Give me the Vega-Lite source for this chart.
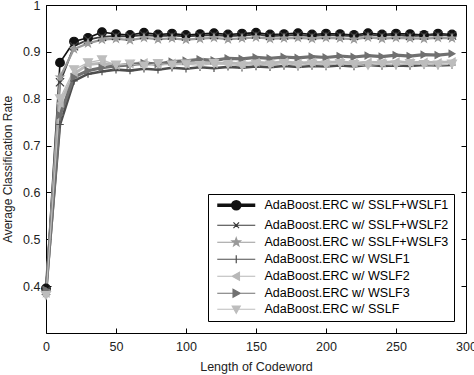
{
"$schema": "https://vega.github.io/schema/vega-lite/v6.json",
"width": 420, "height": 328,
"autosize": "none",
"padding": {"left": 46, "top": 5, "right": 8, "bottom": 42},
"background": "white",
"config": {"view": {"stroke": "black", "strokeWidth": 1}, "font": "Liberation Sans"},
"datasets": {"d": [
{"s":"AdaBoost.ERC w/ SSLF+WSLF1","x":0,"y":0.395},{"s":"AdaBoost.ERC w/ SSLF+WSLF1","x":10,"y":0.877},{"s":"AdaBoost.ERC w/ SSLF+WSLF1","x":20,"y":0.922},{"s":"AdaBoost.ERC w/ SSLF+WSLF1","x":30,"y":0.930},{"s":"AdaBoost.ERC w/ SSLF+WSLF1","x":40,"y":0.942},{"s":"AdaBoost.ERC w/ SSLF+WSLF1","x":50,"y":0.938},{"s":"AdaBoost.ERC w/ SSLF+WSLF1","x":60,"y":0.936},{"s":"AdaBoost.ERC w/ SSLF+WSLF1","x":70,"y":0.941},{"s":"AdaBoost.ERC w/ SSLF+WSLF1","x":80,"y":0.937},{"s":"AdaBoost.ERC w/ SSLF+WSLF1","x":90,"y":0.939},{"s":"AdaBoost.ERC w/ SSLF+WSLF1","x":100,"y":0.936},{"s":"AdaBoost.ERC w/ SSLF+WSLF1","x":110,"y":0.938},{"s":"AdaBoost.ERC w/ SSLF+WSLF1","x":120,"y":0.940},{"s":"AdaBoost.ERC w/ SSLF+WSLF1","x":130,"y":0.937},{"s":"AdaBoost.ERC w/ SSLF+WSLF1","x":140,"y":0.939},{"s":"AdaBoost.ERC w/ SSLF+WSLF1","x":150,"y":0.941},{"s":"AdaBoost.ERC w/ SSLF+WSLF1","x":160,"y":0.937},{"s":"AdaBoost.ERC w/ SSLF+WSLF1","x":170,"y":0.938},{"s":"AdaBoost.ERC w/ SSLF+WSLF1","x":180,"y":0.940},{"s":"AdaBoost.ERC w/ SSLF+WSLF1","x":190,"y":0.937},{"s":"AdaBoost.ERC w/ SSLF+WSLF1","x":200,"y":0.939},{"s":"AdaBoost.ERC w/ SSLF+WSLF1","x":210,"y":0.938},{"s":"AdaBoost.ERC w/ SSLF+WSLF1","x":220,"y":0.936},{"s":"AdaBoost.ERC w/ SSLF+WSLF1","x":230,"y":0.940},{"s":"AdaBoost.ERC w/ SSLF+WSLF1","x":240,"y":0.937},{"s":"AdaBoost.ERC w/ SSLF+WSLF1","x":250,"y":0.939},{"s":"AdaBoost.ERC w/ SSLF+WSLF1","x":260,"y":0.938},{"s":"AdaBoost.ERC w/ SSLF+WSLF1","x":270,"y":0.936},{"s":"AdaBoost.ERC w/ SSLF+WSLF1","x":280,"y":0.939},{"s":"AdaBoost.ERC w/ SSLF+WSLF1","x":290,"y":0.937},
{"s":"AdaBoost.ERC w/ SSLF+WSLF2","x":0,"y":0.390},{"s":"AdaBoost.ERC w/ SSLF+WSLF2","x":10,"y":0.835},{"s":"AdaBoost.ERC w/ SSLF+WSLF2","x":20,"y":0.912},{"s":"AdaBoost.ERC w/ SSLF+WSLF2","x":30,"y":0.926},{"s":"AdaBoost.ERC w/ SSLF+WSLF2","x":40,"y":0.932},{"s":"AdaBoost.ERC w/ SSLF+WSLF2","x":50,"y":0.934},{"s":"AdaBoost.ERC w/ SSLF+WSLF2","x":60,"y":0.933},{"s":"AdaBoost.ERC w/ SSLF+WSLF2","x":70,"y":0.936},{"s":"AdaBoost.ERC w/ SSLF+WSLF2","x":80,"y":0.934},{"s":"AdaBoost.ERC w/ SSLF+WSLF2","x":90,"y":0.935},{"s":"AdaBoost.ERC w/ SSLF+WSLF2","x":100,"y":0.933},{"s":"AdaBoost.ERC w/ SSLF+WSLF2","x":110,"y":0.935},{"s":"AdaBoost.ERC w/ SSLF+WSLF2","x":120,"y":0.936},{"s":"AdaBoost.ERC w/ SSLF+WSLF2","x":130,"y":0.934},{"s":"AdaBoost.ERC w/ SSLF+WSLF2","x":140,"y":0.935},{"s":"AdaBoost.ERC w/ SSLF+WSLF2","x":150,"y":0.937},{"s":"AdaBoost.ERC w/ SSLF+WSLF2","x":160,"y":0.934},{"s":"AdaBoost.ERC w/ SSLF+WSLF2","x":170,"y":0.935},{"s":"AdaBoost.ERC w/ SSLF+WSLF2","x":180,"y":0.936},{"s":"AdaBoost.ERC w/ SSLF+WSLF2","x":190,"y":0.934},{"s":"AdaBoost.ERC w/ SSLF+WSLF2","x":200,"y":0.936},{"s":"AdaBoost.ERC w/ SSLF+WSLF2","x":210,"y":0.935},{"s":"AdaBoost.ERC w/ SSLF+WSLF2","x":220,"y":0.934},{"s":"AdaBoost.ERC w/ SSLF+WSLF2","x":230,"y":0.936},{"s":"AdaBoost.ERC w/ SSLF+WSLF2","x":240,"y":0.935},{"s":"AdaBoost.ERC w/ SSLF+WSLF2","x":250,"y":0.936},{"s":"AdaBoost.ERC w/ SSLF+WSLF2","x":260,"y":0.934},{"s":"AdaBoost.ERC w/ SSLF+WSLF2","x":270,"y":0.935},{"s":"AdaBoost.ERC w/ SSLF+WSLF2","x":280,"y":0.936},{"s":"AdaBoost.ERC w/ SSLF+WSLF2","x":290,"y":0.935},
{"s":"AdaBoost.ERC w/ SSLF+WSLF3","x":0,"y":0.385},{"s":"AdaBoost.ERC w/ SSLF+WSLF3","x":10,"y":0.846},{"s":"AdaBoost.ERC w/ SSLF+WSLF3","x":20,"y":0.906},{"s":"AdaBoost.ERC w/ SSLF+WSLF3","x":30,"y":0.918},{"s":"AdaBoost.ERC w/ SSLF+WSLF3","x":40,"y":0.926},{"s":"AdaBoost.ERC w/ SSLF+WSLF3","x":50,"y":0.928},{"s":"AdaBoost.ERC w/ SSLF+WSLF3","x":60,"y":0.925},{"s":"AdaBoost.ERC w/ SSLF+WSLF3","x":70,"y":0.930},{"s":"AdaBoost.ERC w/ SSLF+WSLF3","x":80,"y":0.927},{"s":"AdaBoost.ERC w/ SSLF+WSLF3","x":90,"y":0.929},{"s":"AdaBoost.ERC w/ SSLF+WSLF3","x":100,"y":0.926},{"s":"AdaBoost.ERC w/ SSLF+WSLF3","x":110,"y":0.928},{"s":"AdaBoost.ERC w/ SSLF+WSLF3","x":120,"y":0.930},{"s":"AdaBoost.ERC w/ SSLF+WSLF3","x":130,"y":0.927},{"s":"AdaBoost.ERC w/ SSLF+WSLF3","x":140,"y":0.929},{"s":"AdaBoost.ERC w/ SSLF+WSLF3","x":150,"y":0.931},{"s":"AdaBoost.ERC w/ SSLF+WSLF3","x":160,"y":0.928},{"s":"AdaBoost.ERC w/ SSLF+WSLF3","x":170,"y":0.929},{"s":"AdaBoost.ERC w/ SSLF+WSLF3","x":180,"y":0.930},{"s":"AdaBoost.ERC w/ SSLF+WSLF3","x":190,"y":0.928},{"s":"AdaBoost.ERC w/ SSLF+WSLF3","x":200,"y":0.930},{"s":"AdaBoost.ERC w/ SSLF+WSLF3","x":210,"y":0.929},{"s":"AdaBoost.ERC w/ SSLF+WSLF3","x":220,"y":0.927},{"s":"AdaBoost.ERC w/ SSLF+WSLF3","x":230,"y":0.931},{"s":"AdaBoost.ERC w/ SSLF+WSLF3","x":240,"y":0.928},{"s":"AdaBoost.ERC w/ SSLF+WSLF3","x":250,"y":0.930},{"s":"AdaBoost.ERC w/ SSLF+WSLF3","x":260,"y":0.929},{"s":"AdaBoost.ERC w/ SSLF+WSLF3","x":270,"y":0.928},{"s":"AdaBoost.ERC w/ SSLF+WSLF3","x":280,"y":0.930},{"s":"AdaBoost.ERC w/ SSLF+WSLF3","x":290,"y":0.929},
{"s":"AdaBoost.ERC w/ WSLF1","x":0,"y":0.390},{"s":"AdaBoost.ERC w/ WSLF1","x":10,"y":0.745},{"s":"AdaBoost.ERC w/ WSLF1","x":20,"y":0.838},{"s":"AdaBoost.ERC w/ WSLF1","x":30,"y":0.853},{"s":"AdaBoost.ERC w/ WSLF1","x":40,"y":0.858},{"s":"AdaBoost.ERC w/ WSLF1","x":50,"y":0.862},{"s":"AdaBoost.ERC w/ WSLF1","x":60,"y":0.860},{"s":"AdaBoost.ERC w/ WSLF1","x":70,"y":0.864},{"s":"AdaBoost.ERC w/ WSLF1","x":80,"y":0.862},{"s":"AdaBoost.ERC w/ WSLF1","x":90,"y":0.866},{"s":"AdaBoost.ERC w/ WSLF1","x":100,"y":0.864},{"s":"AdaBoost.ERC w/ WSLF1","x":110,"y":0.867},{"s":"AdaBoost.ERC w/ WSLF1","x":120,"y":0.865},{"s":"AdaBoost.ERC w/ WSLF1","x":130,"y":0.868},{"s":"AdaBoost.ERC w/ WSLF1","x":140,"y":0.866},{"s":"AdaBoost.ERC w/ WSLF1","x":150,"y":0.869},{"s":"AdaBoost.ERC w/ WSLF1","x":160,"y":0.867},{"s":"AdaBoost.ERC w/ WSLF1","x":170,"y":0.870},{"s":"AdaBoost.ERC w/ WSLF1","x":180,"y":0.868},{"s":"AdaBoost.ERC w/ WSLF1","x":190,"y":0.870},{"s":"AdaBoost.ERC w/ WSLF1","x":200,"y":0.869},{"s":"AdaBoost.ERC w/ WSLF1","x":210,"y":0.871},{"s":"AdaBoost.ERC w/ WSLF1","x":220,"y":0.869},{"s":"AdaBoost.ERC w/ WSLF1","x":230,"y":0.872},{"s":"AdaBoost.ERC w/ WSLF1","x":240,"y":0.870},{"s":"AdaBoost.ERC w/ WSLF1","x":250,"y":0.871},{"s":"AdaBoost.ERC w/ WSLF1","x":260,"y":0.870},{"s":"AdaBoost.ERC w/ WSLF1","x":270,"y":0.872},{"s":"AdaBoost.ERC w/ WSLF1","x":280,"y":0.871},{"s":"AdaBoost.ERC w/ WSLF1","x":290,"y":0.872},
{"s":"AdaBoost.ERC w/ WSLF2","x":0,"y":0.385},{"s":"AdaBoost.ERC w/ WSLF2","x":10,"y":0.790},{"s":"AdaBoost.ERC w/ WSLF2","x":20,"y":0.853},{"s":"AdaBoost.ERC w/ WSLF2","x":30,"y":0.873},{"s":"AdaBoost.ERC w/ WSLF2","x":40,"y":0.876},{"s":"AdaBoost.ERC w/ WSLF2","x":50,"y":0.871},{"s":"AdaBoost.ERC w/ WSLF2","x":60,"y":0.874},{"s":"AdaBoost.ERC w/ WSLF2","x":70,"y":0.877},{"s":"AdaBoost.ERC w/ WSLF2","x":80,"y":0.873},{"s":"AdaBoost.ERC w/ WSLF2","x":90,"y":0.876},{"s":"AdaBoost.ERC w/ WSLF2","x":100,"y":0.874},{"s":"AdaBoost.ERC w/ WSLF2","x":110,"y":0.878},{"s":"AdaBoost.ERC w/ WSLF2","x":120,"y":0.875},{"s":"AdaBoost.ERC w/ WSLF2","x":130,"y":0.877},{"s":"AdaBoost.ERC w/ WSLF2","x":140,"y":0.874},{"s":"AdaBoost.ERC w/ WSLF2","x":150,"y":0.878},{"s":"AdaBoost.ERC w/ WSLF2","x":160,"y":0.876},{"s":"AdaBoost.ERC w/ WSLF2","x":170,"y":0.879},{"s":"AdaBoost.ERC w/ WSLF2","x":180,"y":0.876},{"s":"AdaBoost.ERC w/ WSLF2","x":190,"y":0.878},{"s":"AdaBoost.ERC w/ WSLF2","x":200,"y":0.877},{"s":"AdaBoost.ERC w/ WSLF2","x":210,"y":0.879},{"s":"AdaBoost.ERC w/ WSLF2","x":220,"y":0.876},{"s":"AdaBoost.ERC w/ WSLF2","x":230,"y":0.878},{"s":"AdaBoost.ERC w/ WSLF2","x":240,"y":0.877},{"s":"AdaBoost.ERC w/ WSLF2","x":250,"y":0.879},{"s":"AdaBoost.ERC w/ WSLF2","x":260,"y":0.877},{"s":"AdaBoost.ERC w/ WSLF2","x":270,"y":0.878},{"s":"AdaBoost.ERC w/ WSLF2","x":280,"y":0.877},{"s":"AdaBoost.ERC w/ WSLF2","x":290,"y":0.879},
{"s":"AdaBoost.ERC w/ WSLF3","x":0,"y":0.392},{"s":"AdaBoost.ERC w/ WSLF3","x":10,"y":0.765},{"s":"AdaBoost.ERC w/ WSLF3","x":20,"y":0.846},{"s":"AdaBoost.ERC w/ WSLF3","x":30,"y":0.860},{"s":"AdaBoost.ERC w/ WSLF3","x":40,"y":0.866},{"s":"AdaBoost.ERC w/ WSLF3","x":50,"y":0.870},{"s":"AdaBoost.ERC w/ WSLF3","x":60,"y":0.872},{"s":"AdaBoost.ERC w/ WSLF3","x":70,"y":0.876},{"s":"AdaBoost.ERC w/ WSLF3","x":80,"y":0.874},{"s":"AdaBoost.ERC w/ WSLF3","x":90,"y":0.879},{"s":"AdaBoost.ERC w/ WSLF3","x":100,"y":0.881},{"s":"AdaBoost.ERC w/ WSLF3","x":110,"y":0.884},{"s":"AdaBoost.ERC w/ WSLF3","x":120,"y":0.882},{"s":"AdaBoost.ERC w/ WSLF3","x":130,"y":0.886},{"s":"AdaBoost.ERC w/ WSLF3","x":140,"y":0.885},{"s":"AdaBoost.ERC w/ WSLF3","x":150,"y":0.888},{"s":"AdaBoost.ERC w/ WSLF3","x":160,"y":0.886},{"s":"AdaBoost.ERC w/ WSLF3","x":170,"y":0.889},{"s":"AdaBoost.ERC w/ WSLF3","x":180,"y":0.887},{"s":"AdaBoost.ERC w/ WSLF3","x":190,"y":0.890},{"s":"AdaBoost.ERC w/ WSLF3","x":200,"y":0.888},{"s":"AdaBoost.ERC w/ WSLF3","x":210,"y":0.891},{"s":"AdaBoost.ERC w/ WSLF3","x":220,"y":0.889},{"s":"AdaBoost.ERC w/ WSLF3","x":230,"y":0.892},{"s":"AdaBoost.ERC w/ WSLF3","x":240,"y":0.890},{"s":"AdaBoost.ERC w/ WSLF3","x":250,"y":0.893},{"s":"AdaBoost.ERC w/ WSLF3","x":260,"y":0.891},{"s":"AdaBoost.ERC w/ WSLF3","x":270,"y":0.894},{"s":"AdaBoost.ERC w/ WSLF3","x":280,"y":0.893},{"s":"AdaBoost.ERC w/ WSLF3","x":290,"y":0.896},
{"s":"AdaBoost.ERC w/ SSLF","x":0,"y":0.380},{"s":"AdaBoost.ERC w/ SSLF","x":10,"y":0.800},{"s":"AdaBoost.ERC w/ SSLF","x":20,"y":0.862},{"s":"AdaBoost.ERC w/ SSLF","x":30,"y":0.877},{"s":"AdaBoost.ERC w/ SSLF","x":40,"y":0.883},{"s":"AdaBoost.ERC w/ SSLF","x":50,"y":0.872},{"s":"AdaBoost.ERC w/ SSLF","x":60,"y":0.874},{"s":"AdaBoost.ERC w/ SSLF","x":70,"y":0.870},{"s":"AdaBoost.ERC w/ SSLF","x":80,"y":0.875},{"s":"AdaBoost.ERC w/ SSLF","x":90,"y":0.872},{"s":"AdaBoost.ERC w/ SSLF","x":100,"y":0.874},{"s":"AdaBoost.ERC w/ SSLF","x":110,"y":0.871},{"s":"AdaBoost.ERC w/ SSLF","x":120,"y":0.875},{"s":"AdaBoost.ERC w/ SSLF","x":130,"y":0.873},{"s":"AdaBoost.ERC w/ SSLF","x":140,"y":0.870},{"s":"AdaBoost.ERC w/ SSLF","x":150,"y":0.874},{"s":"AdaBoost.ERC w/ SSLF","x":160,"y":0.872},{"s":"AdaBoost.ERC w/ SSLF","x":170,"y":0.875},{"s":"AdaBoost.ERC w/ SSLF","x":180,"y":0.871},{"s":"AdaBoost.ERC w/ SSLF","x":190,"y":0.874},{"s":"AdaBoost.ERC w/ SSLF","x":200,"y":0.872},{"s":"AdaBoost.ERC w/ SSLF","x":210,"y":0.875},{"s":"AdaBoost.ERC w/ SSLF","x":220,"y":0.873},{"s":"AdaBoost.ERC w/ SSLF","x":230,"y":0.871},{"s":"AdaBoost.ERC w/ SSLF","x":240,"y":0.874},{"s":"AdaBoost.ERC w/ SSLF","x":250,"y":0.872},{"s":"AdaBoost.ERC w/ SSLF","x":260,"y":0.875},{"s":"AdaBoost.ERC w/ SSLF","x":270,"y":0.873},{"s":"AdaBoost.ERC w/ SSLF","x":280,"y":0.872},{"s":"AdaBoost.ERC w/ SSLF","x":290,"y":0.874}
]},
"data": {"name": "d"},
"encoding": {
  "color": {"field": "s", "type": "nominal",
    "scale": {"domain": ["AdaBoost.ERC w/ SSLF+WSLF1","AdaBoost.ERC w/ SSLF+WSLF2","AdaBoost.ERC w/ SSLF+WSLF3","AdaBoost.ERC w/ WSLF1","AdaBoost.ERC w/ WSLF2","AdaBoost.ERC w/ WSLF3","AdaBoost.ERC w/ SSLF"],
              "range": ["#111111","#3a3a3a","#9a9a9a","#4d4d4d","#b8b8b8","#707070","#bdbdbd"]},
    "legend": {"title": null, "orient": "bottom-right", "offset": 12, "padding": 5, "strokeColor": "black", "fillColor": "white",
      "rowPadding": 3, "symbolSize": 64, "symbolOffset": 17, "labelOffset": 22, "labelFont": "Liberation Sans", "labelFontSize": 12.5, "labelColor": "black", "labelLimit": 400,
      "encode": {"symbols": {"update": {
        "shape": {"signal": "['M-4.75,0L4.75,0M-0.9,0A0.9,0.9 0 1,0 0.9,0A0.9,0.9 0 1,0 -0.9,0Z','M-4.75,0L4.75,0M-0.7,-0.7L0.7,0.7M-0.7,0.7L0.7,-0.7','M-4.75,0L4.75,0M0,-1.1L0.26,-0.36L1.05,-0.34L0.42,0.13L0.65,0.89L0,0.44L-0.65,0.89L-0.42,0.13L-1.05,-0.34L-0.26,-0.36Z','M-4.75,0L4.75,0M0,-1L0,1','M-4.75,0L4.75,0M-1,0L0.8,-1L0.8,1Z','M-4.75,0L4.75,0M1,0L-0.8,-1L-0.8,1Z','M-4.75,0L4.75,0M0,1L-1,-0.8L1,-0.8Z'][indexof(domain('color'), datum.value)]"},
        "size": {"value": 64},
        "stroke": {"signal": "scale('color', datum.value)"},
        "fill": {"signal": "scale('color', datum.value)"},
        "strokeWidth": {"signal": "datum.value === 'AdaBoost.ERC w/ SSLF+WSLF1' ? 3.5 : 1.2"},
        "opacity": {"value": 1},
        "fillOpacity": {"value": 1},
        "strokeOpacity": {"value": 1}
      }}}}
  }
},
"layer": [
  {"mark": {"type": "line"},
   "encoding": {
     "x": {"field": "x", "type": "quantitative", "scale": {"domain": [0, 300], "nice": false},
       "axis": {"orient": "bottom", "values": [0,50,100,150,200,250,300], "format": "d", "grid": false, "domain": false, "labelFlush": false,
         "tickSize": -5, "tickColor": "black", "labelPadding": 12, "labelFontSize": 12.5, "labelColor": "#222", "labelFont": "Liberation Sans",
         "title": "Length of Codeword", "titleFont": "Liberation Sans", "titleFontSize": 12.5, "titleFontWeight": "normal", "titleColor": "#222", "titlePadding": 8}},
     "y": {"field": "y", "type": "quantitative", "scale": {"domain": [0.3, 1], "nice": false, "zero": false},
       "axis": {"orient": "left", "values": [0.4,0.5,0.6,0.7,0.8,0.9,1.0], "format": ".1~f", "grid": false, "domain": false, "labelFlush": false,
         "tickSize": -5, "tickColor": "black", "labelPadding": 11, "labelFontSize": 12.5, "labelColor": "#222", "labelFont": "Liberation Sans",
         "title": "Average Classification Rate", "titleFont": "Liberation Sans", "titleFontSize": 12, "titleFontWeight": "normal", "titleColor": "#222", "titlePadding": 8}},
     "strokeWidth": {"field": "s", "type": "nominal", "legend": null,
       "scale": {"range": [1.3,3.2,1.3,1.3,1.3,1.3,1.3]}}
   }},
  {"mark": {"type": "point", "filled": false, "opacity": 1, "strokeWidth": 1.2},
   "encoding": {
     "x": {"field": "x", "type": "quantitative",
       "axis": {"orient": "top", "values": [0,50,100,150,200,250,300], "labels": false, "title": null, "grid": false, "domain": false, "tickSize": -5, "tickColor": "black"}},
     "y": {"field": "y", "type": "quantitative",
       "axis": {"orient": "right", "values": [0.4,0.5,0.6,0.7,0.8,0.9,1.0], "labels": false, "title": null, "grid": false, "domain": false, "tickSize": -5, "tickColor": "black"}},
     "fill": {"field": "s", "type": "nominal", "legend": null,
       "scale": {"range": ["#bdbdbd","#111111","#3a3a3a","#9a9a9a","#4d4d4d","#b8b8b8","#707070"]}},
     "shape": {"field": "s", "type": "nominal", "legend": null,
       "scale": {"range": ["triangle-down","circle","M-1,-1L1,1M-1,1L1,-1","M0,-1L0.24,-0.33L0.95,-0.31L0.38,0.12L0.59,0.81L0,0.4L-0.59,0.81L-0.38,0.12L-0.95,-0.31L-0.24,-0.33Z","M-1,0L1,0M0,-1L0,1","triangle-left","triangle-right"]}},
     "size": {"field": "s", "type": "nominal", "legend": null,
       "scale": {"range": [80,45,25,80,64,80,80]}}
   }}
],
"resolve": {"axis": {"x": "independent", "y": "independent"}}
}
